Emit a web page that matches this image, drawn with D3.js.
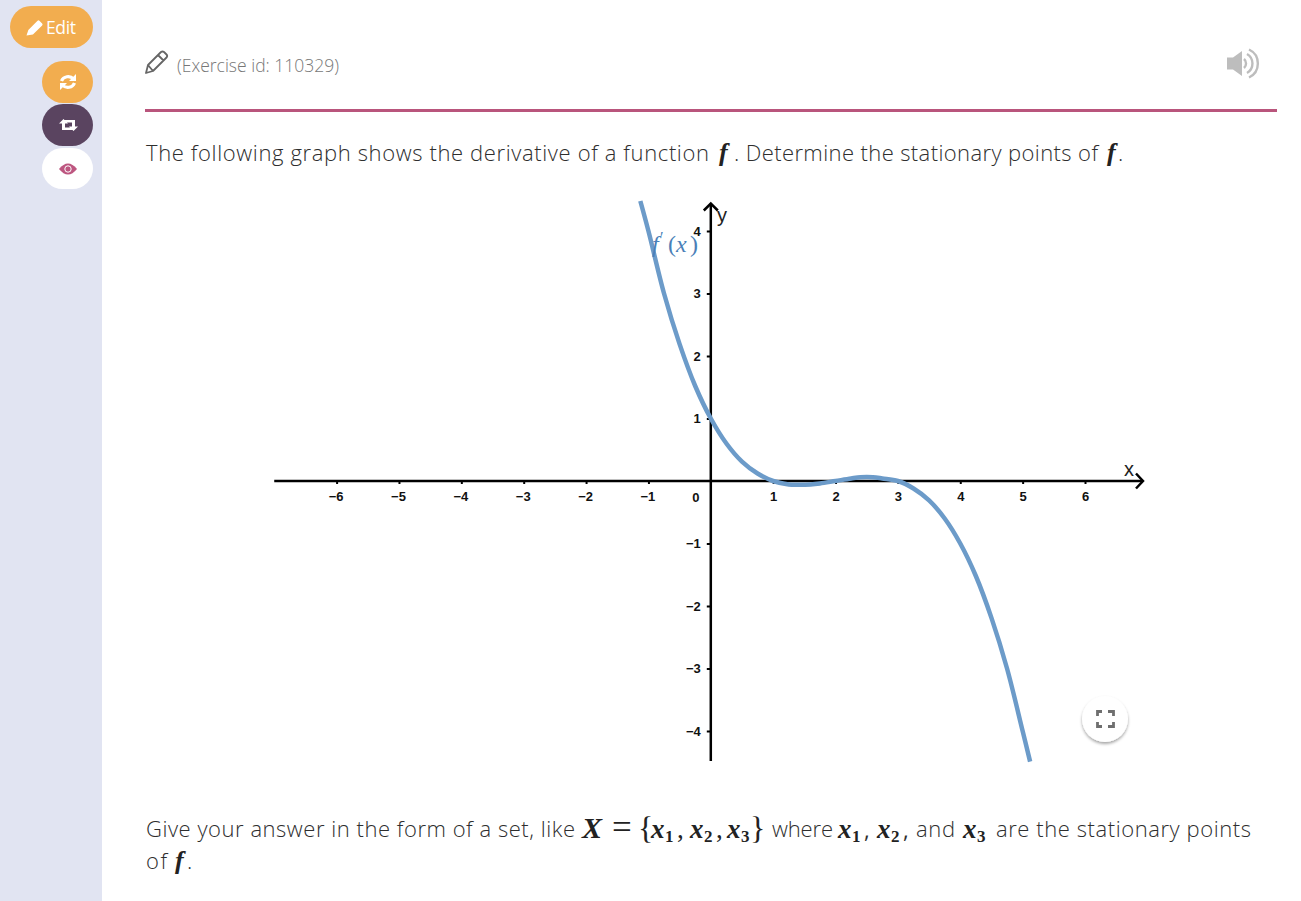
<!DOCTYPE html>
<html><head><meta charset="utf-8">
<script src="https://cdnjs.cloudflare.com/ajax/libs/d3/7.8.5/d3.min.js"></script>
<style>html,body{margin:0;padding:0;background:#fff;overflow:hidden}svg{display:block}</style>
</head><body><div id="c"></div>
<script>
const xValues=[-1.13,-1,-.75,-.5,-.25,0,.25,.5,.75,1,1.25,1.4,1.6,1.75,2,2.25,2.4,2.6,2.75,3,3.25,3.5,3.75,4,4.25,4.5,4.75,5,5.12];
const yValues=[4.48,4,3,2.19,1.52,1,.6,.31,.12,0,-.055,-.06,-.055,-.04,0,.04,.06,.06,.04,0,-.12,-.31,-.6,-1,-1.52,-2.19,-3,-4,-4.49];
const xTicks=[-6,-5,-4,-3,-2,-1,1,2,3,4,5,6];
const yTicks=[-4,-3,-2,-1,1,2,3,4];
const W=1301,H=901,sans="'Open Sans', Lato, sans-serif",serif="'Liberation Serif', serif",ink="#2e2e2e";
const arial="'Liberation Sans',Arial,sans-serif";
const svg=d3.select("#c").append("svg").attr("width",W).attr("height",H);
const defs=svg.append("defs");
const fl=defs.append("filter").attr("id","sh").attr("x","-30%").attr("y","-30%").attr("width","160%").attr("height","170%");
fl.append("feDropShadow").attr("dx",0).attr("dy",2).attr("stdDeviation",1.6).attr("flood-color","#000").attr("flood-opacity",.35);

svg.append("rect").attr("width",102).attr("height",H).attr("fill","#e1e4f2");
const pill=(x,y,w,h,f)=>svg.append("rect").attr("x",x).attr("y",y).attr("width",w).attr("height",h).attr("rx",h/2).attr("fill",f);
pill(10,6,83,42,"#f2ad4f");pill(42,61,51,42,"#f2ad4f");pill(42,104,51,42,"#5a4460");pill(42,148,51,41,"#fff");

function txt(s,x,y,o={}){
  const t=svg.append("text").attr("x",x).attr("y",y).text(s)
    .attr("font-family",o.family||sans).attr("font-size",o.size||22).attr("fill",o.fill||ink)
    .attr("font-weight",o.weight||300).attr("font-style",o.style||"normal");
  if(o.len)t.attr("textLength",o.len).attr("lengthAdjust","spacing");
  if(o.anchor)t.attr("text-anchor",o.anchor);
  return t;
}
// sidebar icons
const pencil="M0 0 L2 -6 L12 -16 Q13 -17 14 -16 L17 -13 Q18 -12 17 -11 L7 -1 Z";
svg.append("path").attr("d",pencil).attr("transform","translate(26.5,35.5) scale(.92)").attr("fill","#fff");
txt("Edit",46,34,{size:17.5,fill:"#fff",len:30,weight:400});
const g1=svg.append("g").attr("transform","translate(68,82)").attr("fill","none").attr("stroke","#fff").attr("stroke-width",3.2);
g1.append("path").attr("d","M-6.5 -1 A7 6.5 0 0 1 5.5 -3");g1.append("path").attr("d","M6.5 1 A7 6.5 0 0 1 -5.5 3");
g1.append("path").attr("d","M8 -8 V-1 H1 Z M-8 8 V1 H-1 Z").attr("fill","#fff").attr("stroke","none");
const g2=svg.append("g").attr("transform","translate(68.5,125)");
g2.append("path").attr("d","M-5 -6 L-9.5 -1.5 H-6.5 V5 H4 L1.5 2.5 H-3.5 V-1.5 H-0.5 Z M5 6 L9.5 1.5 H6.5 V-5 H-4 L-1.5 -2.5 H3.5 V1.5 H0.5 Z").attr("fill","#fff");
const g3=svg.append("g").attr("transform","translate(68,169)");
g3.append("path").attr("d","M-9 0 Q0 -11 9 0 Q0 11 -9 0 Z").attr("fill","#bd5680");
g3.append("circle").attr("r",3.2).attr("fill","#bd5680").attr("stroke","#fff").attr("stroke-width",1);

// header
svg.append("path").attr("d","M146 73 L148 65 L161 52 Q162.5 51 164 52 L166.5 54.5 Q168 56 166.5 57.5 L153 71 Z M148 65 L153 71 M158 55 L163.5 60.5")
  .attr("fill","none").attr("stroke","#666").attr("stroke-width",1.8).attr("stroke-linejoin","round");
txt("(Exercise id: 110329)",177,72,{size:17.5,fill:"#777",len:162});
const sp=svg.append("g").attr("transform","translate(1227,63.5)");
sp.append("path").attr("d","M0 -6 H6 L15 -12.5 V12.5 L6 6 H0 Z").attr("fill","#bdbdbd");
sp.append("g").attr("fill","none").attr("stroke","#bdbdbd").attr("stroke-width",2.4).selectAll("path")
  .data(["M17 -4.5 A6 6 0 0 1 17 4.5","M20 -9.5 A11 11 0 0 1 20 9.5","M22 -14 A15.5 15.5 0 0 1 22 14"]).join("path").attr("d",d=>d);
svg.append("rect").attr("x",145).attr("y",109).attr("width",1132).attr("height",3).attr("fill","#b9557c");

// paragraph
const mathBold={family:serif,weight:700,style:"italic",size:26,fill:"#222"};
txt("The following graph shows the derivative of a function",146,161,{len:563});
txt("f",719,161,mathBold);
txt(". Determine the stationary points of",734,161,{len:364});
txt("f",1107,161,mathBold);
txt(".",1118,161);

// chart
const x=d3.scaleLinear().domain([-6,6]).range([336.6,1085]);
const y=d3.scaleLinear().domain([-4,4]).range([731,231]);
const axisInk="#000";
const ax=svg.append("g").attr("transform",`translate(0,${y(0)})`).call(d3.axisBottom(x).tickValues(xTicks).tickSize(3).tickPadding(8).tickFormat(d=>d<0?"\u2212"+(-d):d));
const ay=svg.append("g").attr("transform",`translate(${x(0)},0)`).call(d3.axisLeft(y).tickValues(yTicks).tickSize(4).tickPadding(6).tickFormat(d=>d<0?"\u2212"+(-d):d));
[ax,ay].forEach(a=>{a.select(".domain").remove();a.selectAll("line").attr("stroke",axisInk).attr("stroke-width",2);
  a.selectAll("text").attr("font-family",arial).attr("font-weight",700).attr("font-size",13).attr("fill","#111");});
ax.selectAll("text").attr("dx",d=>d<0?-1:0);
const x0=x(0),y0=y(0);
const xEnd=x(6.93),xStart=x(-7),yTop=y(4.44),yBot=y(-4.48);
const lineG=svg.append("g").attr("stroke","#000").attr("stroke-width",2.5).attr("fill","none");
lineG.append("line").attr("x1",xStart).attr("x2",xEnd).attr("y1",y0).attr("y2",y0);
lineG.append("line").attr("x1",x0).attr("x2",x0).attr("y1",yTop).attr("y2",yBot);
lineG.append("path").attr("d",`M${xEnd-7} ${y0-7.5} L${xEnd} ${y0} L${xEnd-7} ${y0+7.5}`);
lineG.append("path").attr("d",`M${x0-7} ${yTop+7} L${x0} ${yTop} L${x0+7} ${yTop+7}`);
txt("0",x0-15,502,{family:arial,weight:700,size:13,fill:"#111",anchor:"middle"});
txt("x",1129,476,{family:arial,size:20,fill:"#222",anchor:"middle",weight:400});
txt("y",722,222,{family:arial,size:20,fill:"#222",anchor:"middle",weight:400});

const pts=xValues.map((v,i)=>[v,yValues[i]]);
svg.append("path").attr("d",d3.line().x(d=>x(d[0])).y(d=>y(d[1])).curve(d3.curveCatmullRom.alpha(.5))(pts))
  .attr("fill","none").attr("stroke","#6c9bc9").attr("stroke-width",4.5).attr("stroke-linecap","butt");
const blue="#4a7fb8";
const bl={family:serif,size:24,fill:blue,weight:400};
txt("f",652,252,{...bl,style:"italic"});
txt("\u2032",660,243,{...bl,size:16});
txt("(",668,252,bl);
txt("x",676,252,{...bl,style:"italic"});
txt(")",690,252,bl);

// fullscreen button
svg.append("circle").attr("cx",1105).attr("cy",719).attr("r",23).attr("fill","#fff").attr("filter","url(#sh)");
svg.append("path").attr("d","M1097.5 716 V711.5 H1102 M1108 711.5 H1113.5 V716 M1113.5 722 V726.5 H1108 M1102 726.5 H1097.5 V722")
  .attr("fill","none").attr("stroke","#6f6f6f").attr("stroke-width",2.8);

// answer text
txt("Give your answer in the form of a set, like",146,837,{len:429});
const m2={family:serif,style:"italic",weight:700,size:27,fill:"#222"};
const sub={family:serif,weight:700,size:17,fill:"#222"};
const reg={family:serif,size:32,fill:"#222",weight:400};
txt("X",582,838,{...m2,size:30});
txt("=",612,839,{...reg,size:35});
txt("{",638,839,reg);
[[651,"1"],[690,"2"],[727,"3"]].forEach(([px,s],i)=>{
  txt("x",px,838,m2);txt(s,px+14,842,sub);
  if(i<2)txt(",",px+26,838,{...reg,size:27});
});
txt("}",750,839,reg);
txt("where",772,837,{len:61});
txt("x",838,838,m2);txt("1",852,842,sub);txt(",",864,838,{size:22,weight:400});
txt("x",877,838,m2);txt("2",891,842,sub);txt(",",903,838,{size:22,weight:400});
txt("and",916,837,{len:39});
txt("x",963,838,m2);txt("3",977,842,sub);
txt("are the stationary points",996,837,{len:255});
txt("of",146,869,{len:21});
txt("f",175,869,mathBold);
txt(".",187,869);
</script></body></html>
